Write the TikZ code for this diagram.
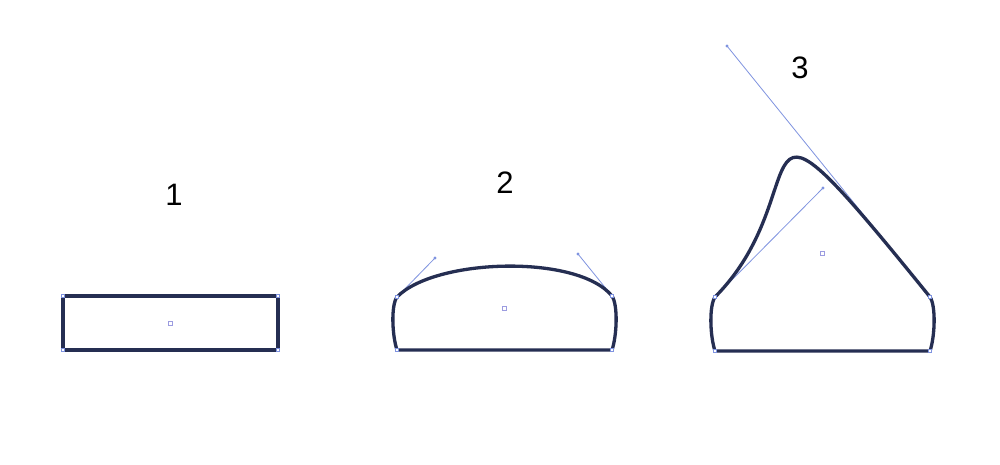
\documentclass[tikz,border=0pt]{standalone}
\usepackage{fontspec}
\setmainfont{Liberation Sans}
\begin{document}
\begin{tikzpicture}[x=1pt,y=-1pt,
  outline/.style={draw=navy,line width=3.3pt,line join=round},
  handle/.style={draw=handleblue,line width=0.8pt},
  anchorpt/.style={fill=white,draw=handleblue,line width=0.5pt,minimum size=3pt,inner sep=0pt,rectangle},
  handlept/.style={fill=handleblue,circle,minimum size=3.2pt,inner sep=0pt},
  centerpt/.style={draw=centerblue,line width=0.8pt,minimum size=4pt,inner sep=0pt,rectangle},
  label/.style={font=\fontsize{31}{31}\selectfont,text=black}]
\definecolor{navy}{HTML}{252E52}
\definecolor{handleblue}{HTML}{7F93E0}
\definecolor{centerblue}{HTML}{9C9CE0}
\useasboundingbox[fill=white] (0,0) rectangle (1000,464);

% ---- shape 1
\coordinate (a1) at (63,296);
\coordinate (b1) at (278,296);
\coordinate (c1) at (278,350);
\coordinate (d1) at (63,350);
\draw[outline] (a1) -- (b1) -- (c1) -- (d1) -- cycle;
\foreach \p in {a1,b1,c1,d1} \node[anchorpt] at (\p) {};
\node[centerpt] (m1) at (170,323) {};
\node[label] (l1) at (174,195) {1};

% ---- shape 2
\coordinate (a2) at (397,297);
\coordinate (b2) at (612,296);
\coordinate (c2) at (612,350);
\coordinate (d2) at (397,350);
\coordinate (h2a) at (435,258);
\coordinate (h2b) at (578,254);
\draw[handle] (a2) -- (h2a);
\draw[handle] (b2) -- (h2b);
\draw[outline] (d2) .. controls (392,335) and (391,305) .. (a2)
  .. controls (h2a) and (h2b) .. (b2)
  .. controls (618,305) and (617,335) .. (c2) -- cycle;
\foreach \p in {a2,b2,c2,d2} \node[anchorpt] at (\p) {};
\node[handlept] at (h2a) {};
\node[handlept] at (h2b) {};
\node[centerpt] (m2) at (504,308) {};
\node[label] (l2) at (505,183) {2};

% ---- shape 3
\coordinate (a3) at (715,297);
\coordinate (b3) at (930,297);
\coordinate (c3) at (930,351);
\coordinate (d3) at (715,351);
\coordinate (h3a) at (823,188);
\coordinate (h3b) at (727,46);
\draw[handle] (a3) -- (h3a);
\draw[handle] (b3) -- (h3b);
\draw[outline] (d3) .. controls (710,336) and (709,306) .. (a3)
  .. controls (h3a) and (h3b) .. (b3)
  .. controls (936,306) and (935,336) .. (c3) -- cycle;
\foreach \p in {a3,b3,c3,d3} \node[anchorpt] at (\p) {};
\node[handlept] at (h3a) {};
\node[handlept] at (h3b) {};
\node[centerpt] (m3) at (822,253) {};
\node[label] (l3) at (800,68) {3};
\end{tikzpicture}
\end{document}
